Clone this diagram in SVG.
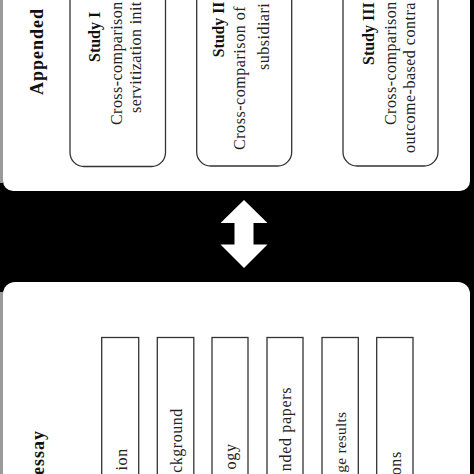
<svg xmlns="http://www.w3.org/2000/svg" width="474" height="474" viewBox="0 0 474 474">
<style>
.panel{fill:#ffffff}
.edge{fill:#9a9a9a}
.study{fill:#ffffff;stroke:#333333;stroke-width:1.3}
.part{fill:#ffffff;stroke:#333333;stroke-width:1.3}
.t{font-family:"Liberation Serif",serif;font-size:16px;fill:#222222;letter-spacing:0.7px}
.b{font-family:"Liberation Serif",serif;font-size:16px;font-weight:bold;fill:#111111}
.h{font-family:"Liberation Serif",serif;font-size:18px;font-weight:bold;fill:#111111;letter-spacing:1px}
.arrow{fill:#ffffff}
</style>
<rect x="0" y="0" width="474" height="474" fill="#000000"/>
<g id="panel-appended">
<rect class="edge" x="0" y="0" width="3" height="183"/>
<rect class="panel" x="3" y="-20" width="467" height="211" rx="10"/>
<text class="h" transform="translate(43,95) rotate(-90)">Appended</text>
</g>
<g id="study-1">
<rect class="study" x="70" y="-30" width="95.5" height="196.5" rx="14"/>
<text class="b" transform="translate(100,62) rotate(-90)">Study I</text>
<text class="t" style="letter-spacing:0.45px" transform="translate(121.5,125) rotate(-90)">Cross-comparison</text>
<text class="t" style="letter-spacing:0.4px" transform="translate(140.5,113) rotate(-90)">servitization init</text>
</g>
<g id="study-2">
<rect class="study" x="196.7" y="-30" width="95" height="196" rx="14"/>
<text class="b" style="font-size:15.8px" transform="translate(223.5,57.3) rotate(-90)">Study II</text>
<text class="t" style="letter-spacing:0.55px" transform="translate(245,150) rotate(-90)">Cross-comparison of</text>
<text class="t" style="letter-spacing:0.5px" transform="translate(268.5,70) rotate(-90)">subsidiari</text>
</g>
<g id="study-3">
<rect class="study" x="343" y="-30" width="95" height="196" rx="14"/>
<text class="b" transform="translate(373.5,65) rotate(-90)">Study III</text>
<text class="t" style="letter-spacing:0.45px" transform="translate(396,125) rotate(-90)">Cross-comparison</text>
<text class="t" style="letter-spacing:0.5px" transform="translate(415,153) rotate(-90)">outcome-based contra</text>
</g>
<g id="connectors">
<polygon class="arrow" points="244,200 267.5,223 253.5,223 253.5,244.5 267.5,244.5 244,268 220.5,244.5 234.5,244.5 234.5,223 220.5,223"/>
</g>
<g id="panel-essay">
<rect class="edge" x="0" y="292" width="3" height="182"/>
<rect class="panel" x="3" y="282" width="467" height="212" rx="12"/>
<text class="h" text-anchor="end" transform="translate(43.5,430) rotate(-90)">essay</text>
</g>
<g id="part-1">
<rect class="part" x="101.7" y="337.5" width="37" height="150"/>
<text class="t" text-anchor="end" transform="translate(126.5,448) rotate(-90)">ion</text>
</g>
<g id="part-2">
<rect class="part" x="157.3" y="337.5" width="36.5" height="150"/>
<text class="t" style="letter-spacing:0.5px" text-anchor="end" transform="translate(182,408.3) rotate(-90)">ckground</text>
</g>
<g id="part-3">
<rect class="part" x="212" y="337.5" width="36" height="150"/>
<text class="t" text-anchor="end" transform="translate(235.7,443.3) rotate(-90)">ogy</text>
</g>
<g id="part-4">
<rect class="part" x="267" y="337.5" width="36" height="150"/>
<text class="t" text-anchor="end" transform="translate(290.7,386.7) rotate(-90)">nded papers</text>
</g>
<g id="part-5">
<rect class="part" x="322" y="337.5" width="36.3" height="150"/>
<text class="t" style="font-size:15.5px;letter-spacing:0.2px" text-anchor="end" transform="translate(346,411.7) rotate(-90)">ge results</text>
</g>
<g id="part-6">
<rect class="part" x="376.7" y="337.5" width="36.3" height="150"/>
<text class="t" text-anchor="end" transform="translate(400.8,451) rotate(-90)">ons</text>
</g>
</svg>
